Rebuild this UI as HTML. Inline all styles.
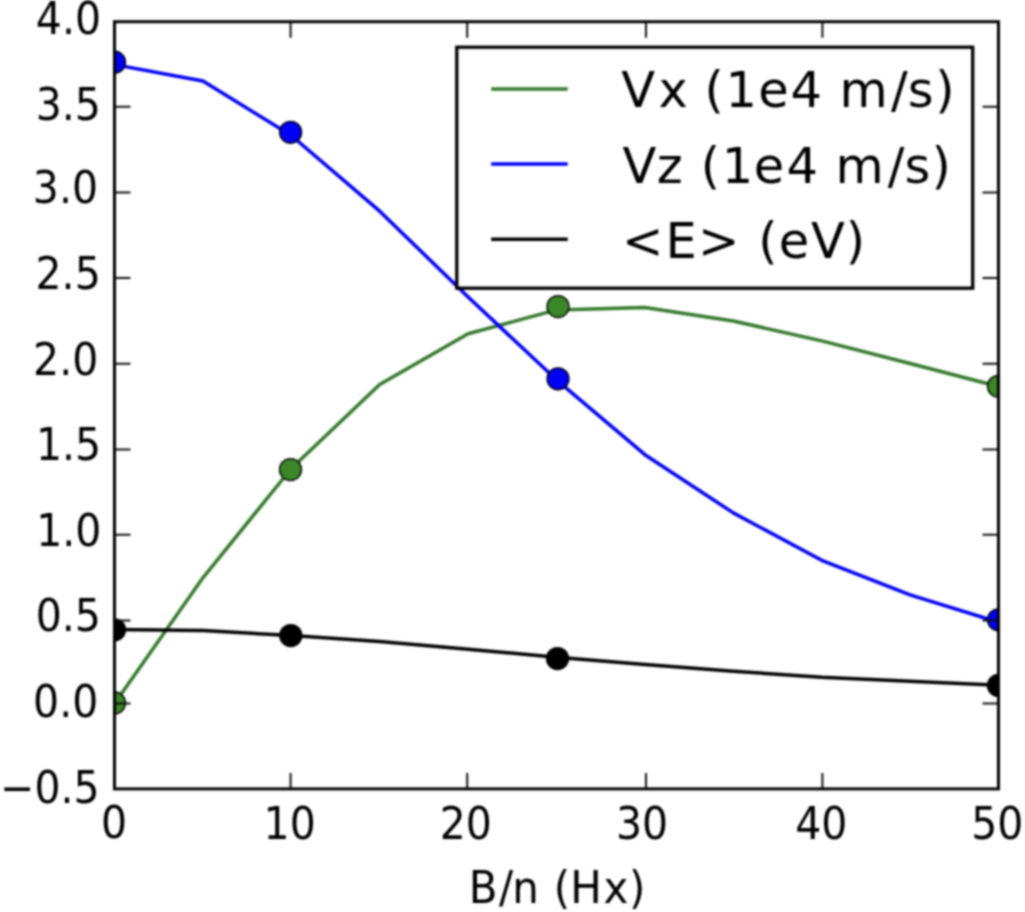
<!DOCTYPE html><html><head><meta charset="utf-8"><style>html,body{margin:0;padding:0;background:#fff;}svg{display:block;}text{font-family:"DejaVu Sans","Liberation Sans",sans-serif;fill:#000;font-kerning:none;}</style></head><body>
<svg width="1025" height="912" viewBox="0 0 1025 912">
<defs><filter id="soft" x="0" y="0" width="1025" height="912" filterUnits="userSpaceOnUse" color-interpolation-filters="sRGB"><feConvolveMatrix order="5" kernelMatrix="1 4 6 4 1 4 16 24 16 4 6 24 36 24 6 4 16 24 16 4 1 4 6 4 1" divisor="256" edgeMode="duplicate"/></filter></defs><g filter="url(#soft)">
<rect x="0" y="0" width="1025" height="912" fill="#fff"/>
<defs><clipPath id="ax"><rect x="114.5" y="21.7" width="884.0" height="767.2"/></clipPath></defs>
<g clip-path="url(#ax)" fill="none" stroke-linejoin="round" stroke-linecap="square">
<polyline points="114.5,703.5 202.9,577.8 291.3,468.5 379.7,384.5 468.1,333.8 556.5,309.9 644.9,307.4 733.3,321.0 821.7,340.9 910.1,363.5 998.5,386.5" stroke="#34792c" stroke-width="3.5"/>
<polyline points="114.5,64.6 202.9,81.0 291.3,135.5 379.7,211.2 468.1,297.0 556.5,379.8 644.9,454.7 733.3,512.9 821.7,560.3 910.1,594.9 998.5,622.2" stroke="#0000f5" stroke-width="3.5"/>
<polyline points="114.5,629.5 202.9,630.5 291.3,635.5 379.7,641.4 468.1,649.2 556.5,657.3 644.9,664.6 733.3,671.2 821.7,677.3 910.1,681.2 998.5,685.2" stroke="#000" stroke-width="3.5"/>
</g>
<g clip-path="url(#ax)" stroke="#000" stroke-width="1.3">
<circle cx="114.5" cy="703.0" r="11.0" fill="#3a8628"/>
<circle cx="290.5" cy="469.6" r="11.0" fill="#3a8628"/>
<circle cx="558.0" cy="306.6" r="11.0" fill="#3a8628"/>
<circle cx="998.5" cy="386.3" r="11.0" fill="#3a8628"/>
<circle cx="114.5" cy="62.2" r="11.0" fill="#0000f5"/>
<circle cx="290.6" cy="132.3" r="11.0" fill="#0000f5"/>
<circle cx="558.0" cy="378.8" r="11.0" fill="#0000f5"/>
<circle cx="998.5" cy="619.8" r="11.0" fill="#0000f5"/>
<circle cx="114.5" cy="629.8" r="11.0" fill="#000"/>
<circle cx="290.8" cy="635.6" r="11.0" fill="#000"/>
<circle cx="557.5" cy="658.6" r="11.0" fill="#000"/>
<circle cx="998.5" cy="685.4" r="11.0" fill="#000"/>
</g>
<path d="M290.6 788.9V772.9M290.6 21.7V37.7M467.2 788.9V772.9M467.2 21.7V37.7M646.0 788.9V772.9M646.0 21.7V37.7M822.4 788.9V772.9M822.4 21.7V37.7M114.5 106.8H130.5M998.5 106.8H982.5M114.5 192.5H130.5M998.5 192.5H982.5M114.5 278.1H130.5M998.5 278.1H982.5M114.5 363.8H130.5M998.5 363.8H982.5M114.5 449.4H130.5M998.5 449.4H982.5M114.5 534.8H130.5M998.5 534.8H982.5M114.5 620.4H130.5M998.5 620.4H982.5M114.5 703.6H130.5M998.5 703.6H982.5" stroke="#111" stroke-width="2.0" fill="none"/>
<rect x="114.5" y="21.7" width="884.0" height="767.2" fill="none" stroke="#000" stroke-width="3.0"/>
<text transform="translate(35.81,33.90) scale(1,1.07)" x="0" y="0" font-size="41.0">4.0</text>
<text transform="translate(35.68,120.10) scale(1,1.07)" x="0" y="0" font-size="41.0">3.5</text>
<text transform="translate(32.85,203.30) scale(1,1.07)" x="0" y="0" font-size="41.0">3.0</text>
<text transform="translate(35.54,289.00) scale(1,1.07)" x="0" y="0" font-size="41.0">2.5</text>
<text transform="translate(33.11,374.70) scale(1,1.07)" x="0" y="0" font-size="41.0">2.0</text>
<text transform="translate(35.89,460.10) scale(1,1.07)" x="0" y="0" font-size="41.0">1.5</text>
<text transform="translate(36.16,545.50) scale(1,1.07)" x="0" y="0" font-size="41.0">1.0</text>
<text transform="translate(35.69,631.20) scale(1,1.07)" x="0" y="0" font-size="41.0">0.5</text>
<text transform="translate(33.06,717.00) scale(1,1.07)" x="0" y="0" font-size="41.0">0.0</text>
<text transform="translate(0.04,803.00) scale(1,1.07)" x="0" y="0" font-size="41.0">−0.5</text>
<text transform="translate(101.12,838.40) scale(1,1.07)" x="0" y="0" font-size="41.0">0</text>
<text transform="translate(263.62,838.70) scale(1,1.07)" x="0" y="0" font-size="41.0">10</text>
<text transform="translate(439.77,838.70) scale(1,1.07)" x="0" y="0" font-size="41.0">20</text>
<text transform="translate(616.01,839.00) scale(1,1.07)" x="0" y="0" font-size="41.0">30</text>
<text transform="translate(795.27,838.70) scale(1,1.07)" x="0" y="0" font-size="41.0">40</text>
<text transform="translate(971.19,838.70) scale(1,1.07)" x="0" y="0" font-size="41.0">50</text>
<g transform="translate(0,903.4) scale(1,1.065) translate(0,-903.4)"><text x="468.8 498.9 512.2 538.8 553.7 570.3 603.4 629.1" y="903.4" font-size="42">B/n (Hx)</text></g>
<rect x="456.8" y="47.2" width="515.9" height="241" fill="#fff" stroke="#000" stroke-width="3.3"/>
<path d="M491.2 88.9H567.7" stroke="#34792c" stroke-width="3.5"/>
<path d="M491.2 164.1H567.7" stroke="#0000f5" stroke-width="3.5"/>
<path d="M491.2 239.3H567.7" stroke="#000" stroke-width="3.5"/>
<text x="621.3 658.6 687.9 704.6 725.4 758.2 790.6 822.1 839.6 891.0 907.8 935.2" y="107.4" font-size="49.5">Vx (1e4 m/s)</text>
<text x="622.4 656.7 682.7 700.8 721.8 753.8 786.4 817.9 835.6 887.8 904.6 931.4" y="182.5" font-size="49.5">Vz (1e4 m/s)</text>
<text x="621.9 665.5 698.1 739.5 758.3 778.8 811.0 845.8" y="257.6" font-size="49.5">&lt;E&gt; (eV)</text>
</g></svg></body></html>
